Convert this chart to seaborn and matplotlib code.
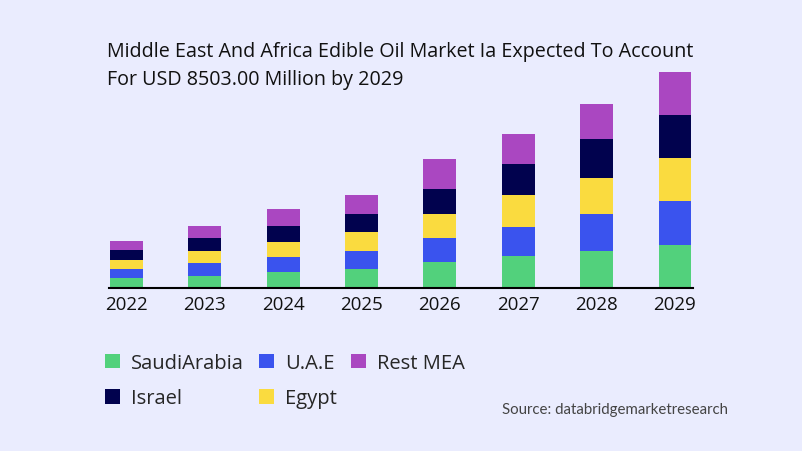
import matplotlib
matplotlib.use('Agg')
import matplotlib.pyplot as plt
import seaborn as sns
import numpy as np
import pandas as pd
from matplotlib.patches import Patch

sns.set_style('white')
plt.rcParams['font.family'] = ['Open Sans', 'DejaVu Sans']

# data (USD million)
years = ['2022', '2023', '2024', '2025', '2026', '2027', '2028', '2029']
saudi = [405, 485, 640, 760, 1035, 1270, 1470, 1700]
uae = [355, 510, 590, 710, 945, 1140, 1455, 1730]
egypt = [355, 470, 590, 745, 945, 1260, 1415, 1690]
israel = [395, 510, 630, 710, 980, 1220, 1530, 1690]
rest = [355, 470, 670, 745, 1180, 1180, 1375, 1690]

# bottom -> top
stack_names = ['SaudiArabia', 'U.A.E', 'Egypt', 'Israel', 'Rest MEA']
stack_vals = [saudi, uae, egypt, israel, rest]
colors = {'SaudiArabia': '#52D17C', 'U.A.E': '#3A53EE', 'Egypt': '#FADB3F',
          'Israel': '#01024E', 'Rest MEA': '#AA47C1'}
bg = '#EAECFE'

cum = np.cumsum(np.array(stack_vals), axis=0)

fig = plt.figure(figsize=(8.02, 4.52), dpi=100, facecolor=bg)
ax = fig.add_axes([108.5/802, 1-289/452, (693-108.5)/802, (289-73)/452])
ax.set_facecolor(bg)

# draw from the top layer down so each shorter bar covers the one behind
for i in range(len(stack_names)-1, -1, -1):
    df = pd.DataFrame({'year': years, 'val': cum[i]})
    sns.barplot(data=df, x='year', y='val', color=colors[stack_names[i]],
                width=0.42, saturation=1, linewidth=0, ax=ax)

ax.set_xlim(-0.23, 7.23)
ax.set_ylim(0, cum[-1].max())
ax.set_xlabel('')
ax.set_ylabel('')
ax.set_yticks([])
for s in ['top', 'right', 'left']:
    ax.spines[s].set_visible(False)
ax.spines['bottom'].set_color('black')
ax.spines['bottom'].set_linewidth(1.5)
ax.tick_params(axis='x', length=0, pad=5, labelsize=13.5, colors='#111111')

fig.text(107/802, 1-52/452, 'Middle East And Africa Edible Oil Market Ia Expected To Account',
         fontsize=14.2, va='center', ha='left', color='#111111')
fig.text(107/802, 1-80/452, 'For USD 8503.00 Million by 2029',
         fontsize=14.2, va='center', ha='left', color='#111111')

leg_order = ['SaudiArabia', 'Israel', 'U.A.E', 'Egypt', 'Rest MEA']
handles = [Patch(facecolor=colors[n], edgecolor='none', label=n) for n in leg_order]
fig.legend(handles=handles, ncol=3, loc='upper left', bbox_to_anchor=(97/802, 1-346/452),
           frameon=False, fontsize=14.5, handlelength=0.75, handleheight=0.75,
           handletextpad=0.55, columnspacing=0.72, labelspacing=0.75, borderaxespad=0)

fig.text(728/802, 1-410/452, 'Source: databridgemarketresearch', fontsize=10.8,
         ha='right', va='center', color='#444444',
         family=['Liberation Sans Narrow', 'Lato', 'DejaVu Sans'])

fig.savefig('out.png', dpi=100, facecolor=bg)
